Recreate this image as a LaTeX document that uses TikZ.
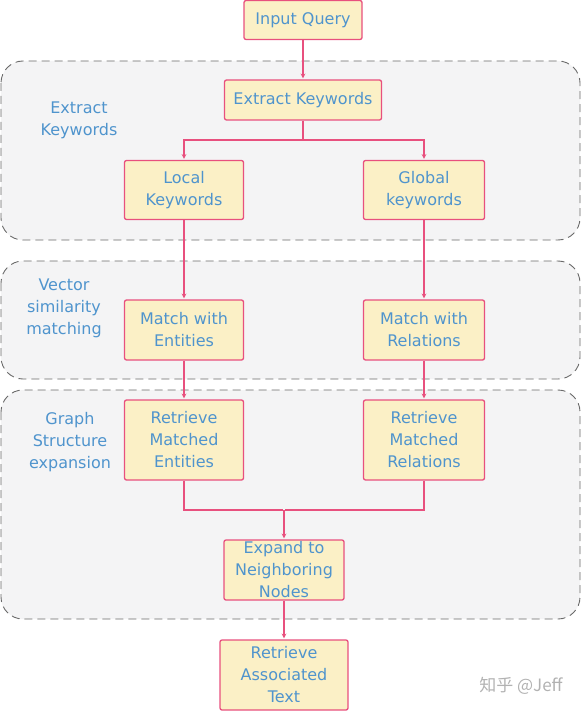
\documentclass[tikz,border=0pt]{standalone}
\usepackage{fontspec}
\newfontfamily\handfont{DejaVu Sans}
\newfontfamily\cjkfont{Noto Sans CJK SC}
\usetikzlibrary{positioning}

\definecolor{boxline}{HTML}{E8507E}
\definecolor{boxfill}{HTML}{FBF0C6}
\definecolor{labeltext}{HTML}{4F94CD}
\definecolor{groupfill}{HTML}{F4F4F5}
\definecolor{groupline}{HTML}{6A6A6A}
\newcommand{\flowfont}{\handfont\fontsize{16}{22}\selectfont}

\begin{document}
\begin{tikzpicture}[x=1pt,y=-1pt,-,>=stealth,shorten >=1pt,
    main node/.style={rectangle,rounded corners=2pt,draw=boxline,fill=boxfill,line width=1.3pt,text=labeltext,align=center,font=\flowfont,inner sep=0pt},
    group box/.style={draw=groupline,fill=groupfill,dash pattern=on 8pt off 5pt,line width=0.9pt,rounded corners=22pt},
    group label/.style={text=labeltext,align=center,font=\flowfont},
    link/.style={color=boxline,line width=1.1pt}]
    \useasboundingbox (0,0) rectangle (581,711);

    % dashed stage groups
    \draw[group box] (1,61) rectangle (580,240);
    \draw[group box] (1,261) rectangle (580,379);
    \draw[group box] (1,390) rectangle (580,619);

    \node[group label] (l1) at (79,120) {Extract\\Keywords};
    \node[group label] (l2) at (64,308) {Vector\\similarity\\matching};
    \node[group label] (l3) at (70,442) {Graph\\Structure\\expansion};

    \node[main node,minimum width=118pt,minimum height=39pt] (1) at (303,20) {Input Query};
    \node[main node,minimum width=157pt,minimum height=40pt] (2) at (303,100) {Extract Keywords};
    \node[main node,minimum width=119pt,minimum height=59pt] (3) at (184,190) {Local\\Keywords};
    \node[main node,minimum width=121pt,minimum height=59pt] (4) at (424,190) {Global\\keywords};
    \node[main node,minimum width=119pt,minimum height=60pt] (5) at (184,330) {Match with\\Entities};
    \node[main node,minimum width=121pt,minimum height=60pt] (6) at (424,330) {Match with\\Relations};
    \node[main node,minimum width=119pt,minimum height=80pt] (7) at (184,440) {Retrieve\\Matched\\Entities};
    \node[main node,minimum width=121pt,minimum height=80pt] (8) at (424,440) {Retrieve\\Matched\\Relations};
    \node[main node,minimum width=120pt,minimum height=60pt] (9) at (284,570) {Expand to\\Neighboring\\Nodes};
    \node[main node,minimum width=128pt,minimum height=70pt] (10) at (284,675) {Retrieve\\Associated\\Text};

    \node[text=gray!60,font=\cjkfont\fontsize{17}{19}\selectfont] (wm) at (521,686) {知乎 @Jeff};

    \coordinate (s1) at (303,140);
    \coordinate (m1) at (284,510);

    \draw[link,->] (2) -- (s1) -| (3);
    \draw[link,->] (s1) -| (4);
    \draw[link] (7) |- (m1);
    \draw[link] (8) |- (m1);
    \draw[link,->] (m1) -- (9);
    \path[link]
        (1) edge[->] (2)
        (3) edge[->] (5)
        (4) edge[->] (6)
        (5) edge[->] (7)
        (6) edge[->] (8)
        (9) edge[->] (10)
        ;
\end{tikzpicture}
\end{document}
